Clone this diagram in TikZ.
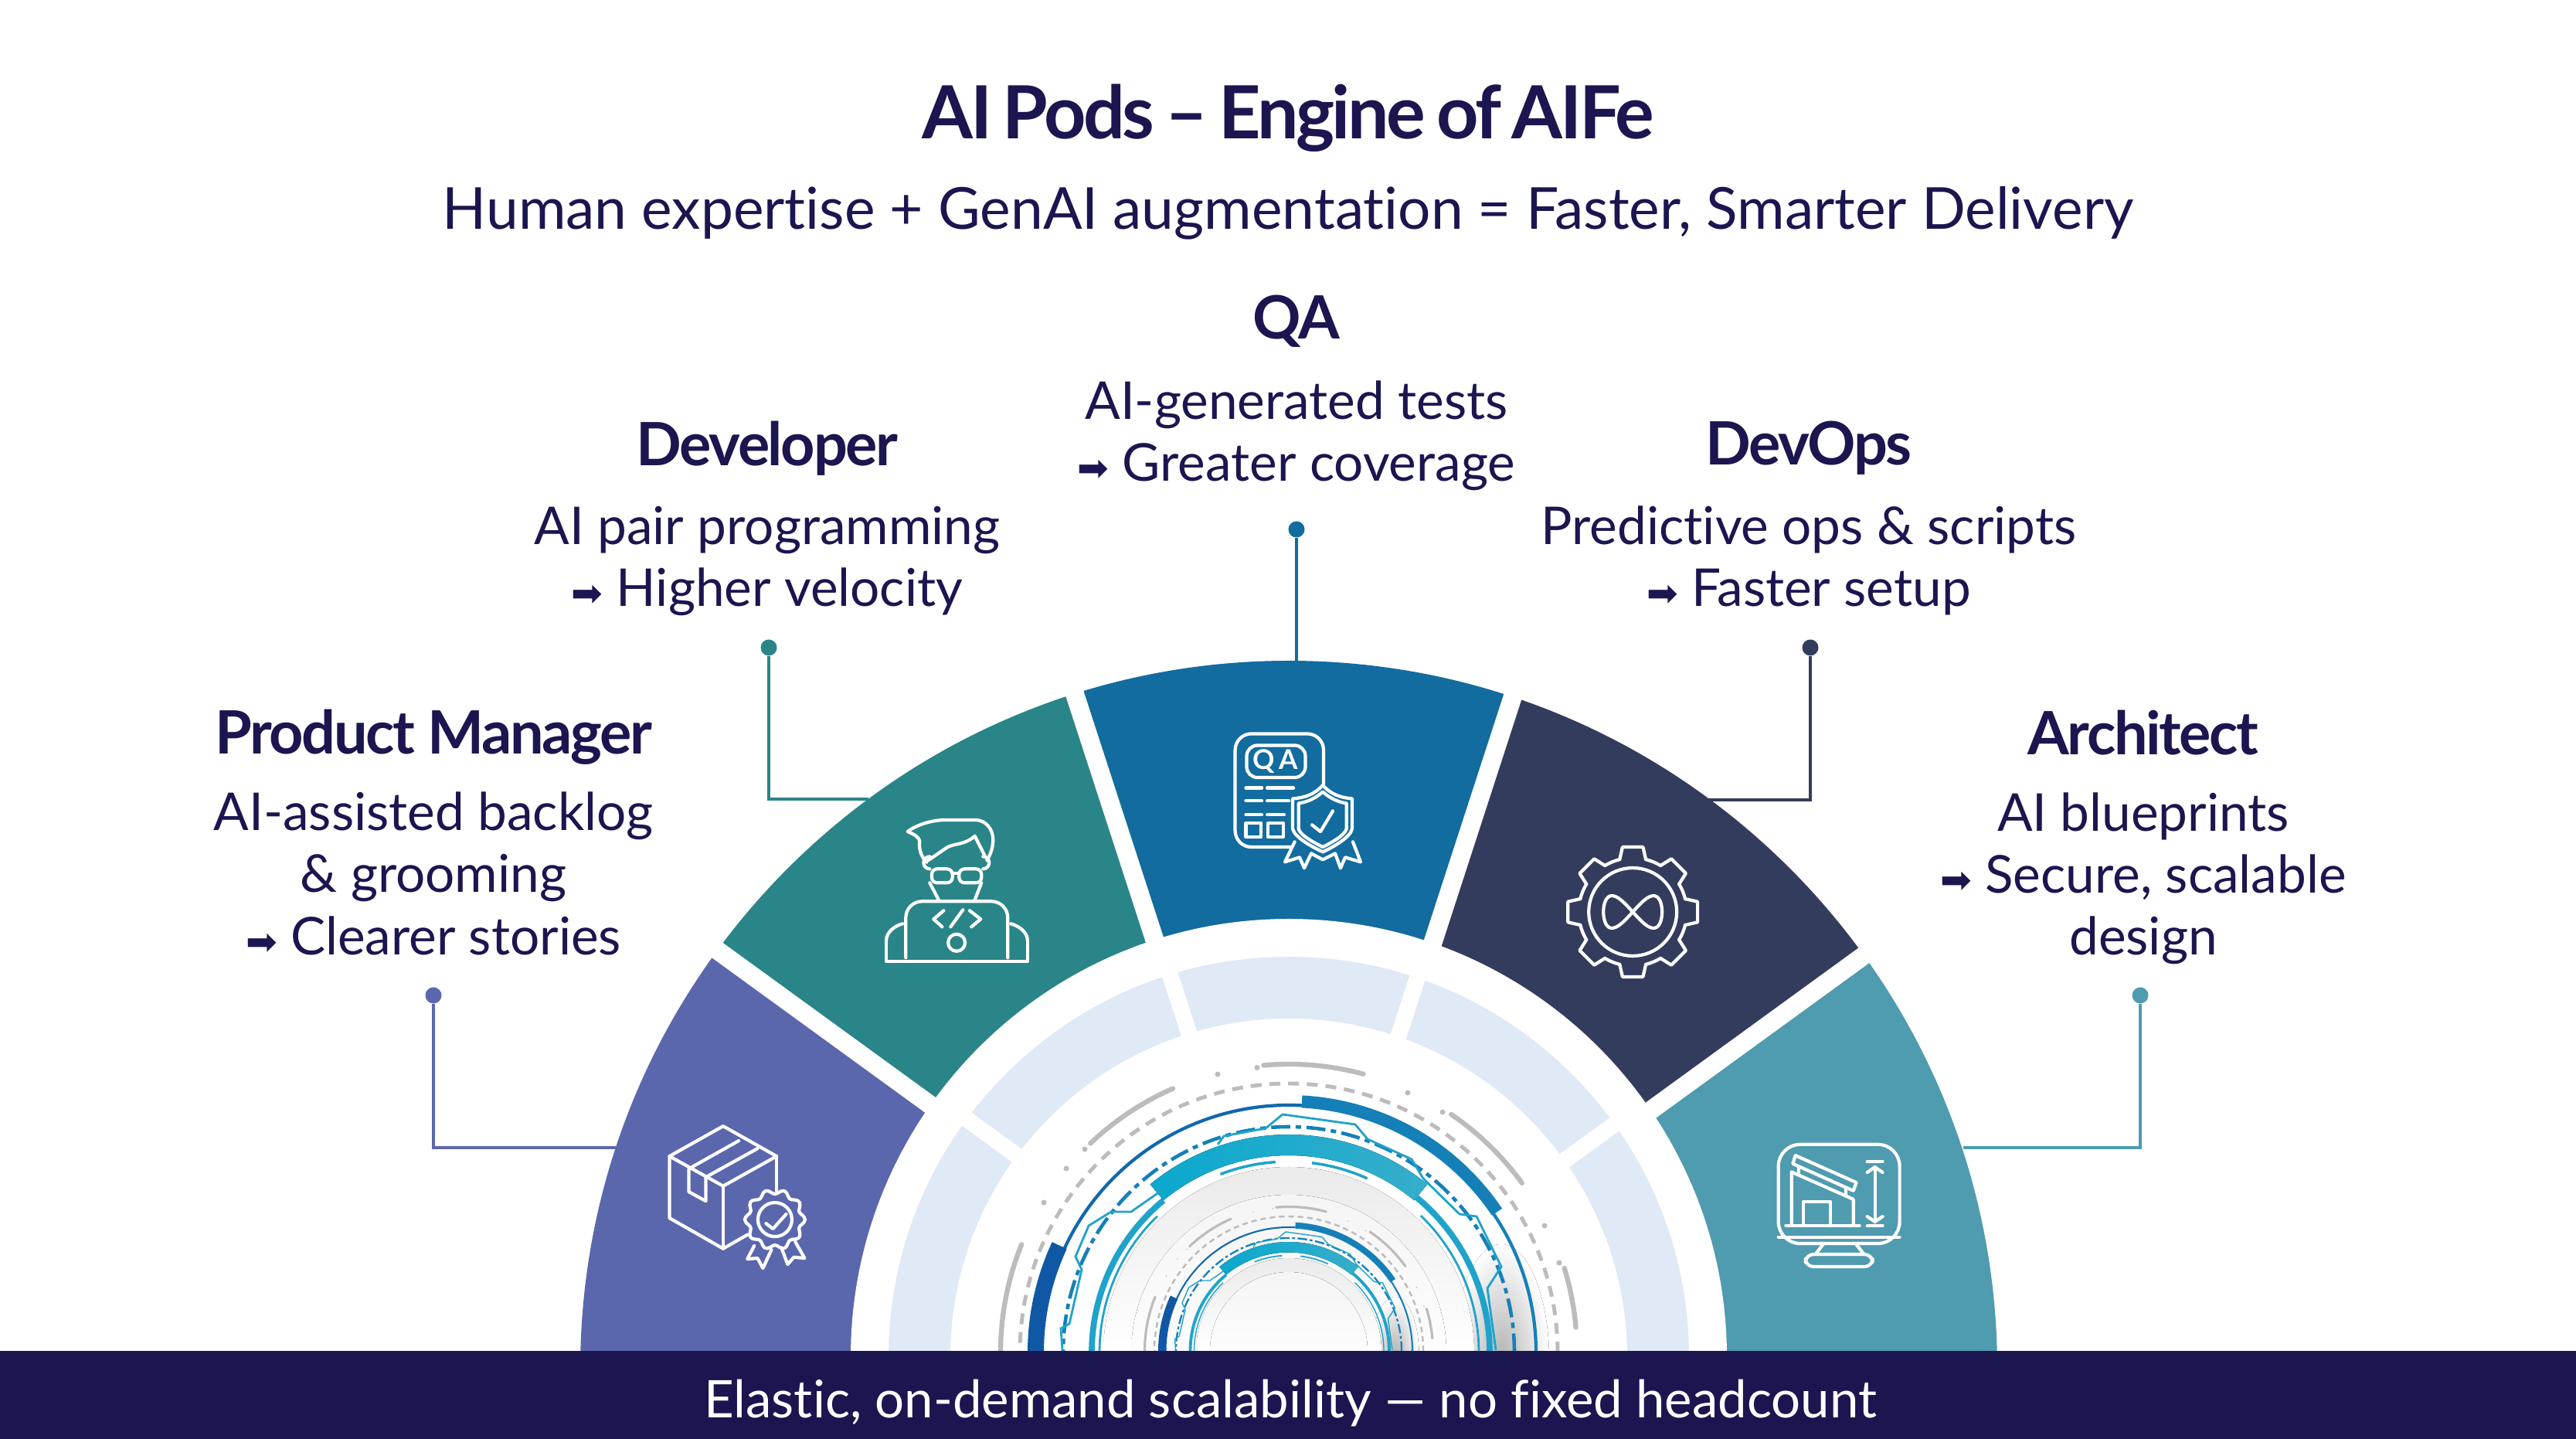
\documentclass[tikz,border=0pt]{standalone}
\usepackage{fontspec}
\setmainfont{Lato}[Ligatures=NoCommon]
\newfontfamily\arrowfont{DejaVu Sans}[Scale=0.72]
\newfontfamily\tightfont{Lato}[LetterSpace=-3.0,Ligatures=NoCommon]
\newfontfamily\titlefont{Lato}[LetterSpace=-3.6,WordSpace=0.7,Ligatures=NoCommon]
\usetikzlibrary{positioning}
\definecolor{podpm}{HTML}{5B67AD}
\definecolor{poddev}{HTML}{2A8588}
\definecolor{podqa}{HTML}{126C9F}
\definecolor{podops}{HTML}{343C5E}
\definecolor{podarch}{HTML}{4F9BB0}
\definecolor{ringblue}{HTML}{E0E9F6}
\definecolor{inknavy}{HTML}{1B1650}
\definecolor{techgray}{HTML}{BDBBBB}
\definecolor{techblue}{HTML}{1580B8}
\definecolor{techdark}{HTML}{1058A5}
\definecolor{techcyan}{HTML}{1FA3CB}
\definecolor{techleft}{HTML}{0AA8CD}
\definecolor{techright}{HTML}{35AECB}
\newcommand{\goes}{{\arrowfont ➡}\ }
\tikzset{
headtext/.style={inner sep=0pt,text=inknavy,font=\tightfont\bfseries\fontsize{22}{26}\selectfont},
bodytext/.style={inner sep=0pt,text=inknavy,align=center,font=\fontsize{19.2}{22.8}\selectfont},
podline/.style={line width=0.9pt},
poddot/.style={circle,inner sep=0pt,minimum size=0.21cm},
iconline/.style={white,line width=1.2pt,line join=round,line cap=round},
iconpx/.style={x=0.01cm,y=-0.01cm,yshift=18.62cm}
}
% one set of rings, #1 scales the strokes
\newcommand{\techring}[1]{
% soft shadow and discs
\fill[inner color=black!30,outer color=white] (2.75,-0.1) ellipse (0.62 and 1.5);
\fill[white] (0:2.4) arc (0:180:2.4) -- cycle;
\fill[top color=black!8,bottom color=white] (0:2.4) arc (0:180:2.4) -- cycle;
\fill[top color=black!4,bottom color=black!1] (0:2.04) arc (0:180:2.04) -- cycle;
% gray arcs
\foreach \a/\b in {5/17,36/55.7,75/95,113.7/133.5,158/180}{
\draw[techgray,line width=#1*1.8pt,line cap=round] (\a:3.73) arc (\a:\b:3.73);
}
\draw[techgray,line width=#1*1.4pt,dash pattern=on #1*4pt off #1*2.9pt] (0:3.48) arc (0:180:3.48);
\foreach \x/\y in {-0.92/3.60,-2.88/2.38,-3.17/1.94,-2.64/2.63,-0.41/3.685,1.54/3.36,1.99/3.11,3.31/1.64,3.50/1.16}{
\fill[techgray] (\x,\y) circle (#1*0.035);
}
% blue arcs
\draw[techdark!60!techblue,line width=#1*1.2pt] (87:3.2) arc (87:155:3.2);
\draw[techdark,line width=#1*1.2pt] (155:3.2) arc (155:180:3.2);
\draw[techblue,line width=#1*1.2pt] (0:3.2) arc (0:34:3.2);
\fill[techblue] (34:3.33) arc (34:87:3.33) -- (87:3.17) arc (87:34:3.17) -- cycle;
\fill[techdark] (155:3.38) arc (155:180:3.38) -- (180:3.17) arc (180:155:3.17) -- cycle;
\draw[techblue,line width=#1*1.3pt,dash pattern=on #1*7pt off #1*2pt on #1*2pt off #1*2pt] (0:2.92) arc (0:180:2.92);
% cyan arcs
\fill[left color=techleft,right color=techright] (50.5:2.82) arc (50.5:129.5:2.82) -- (129.5:2.55) arc (129.5:50.5:2.55) -- cycle;
\draw[techcyan,line width=#1*2.2pt] (0:2.6) arc (0:50.5:2.6);
\draw[techcyan,line width=#1*2.2pt] (129.5:2.55) arc (129.5:180:2.55);
\draw[techcyan,line width=#1*0.8pt] (0:2.46) arc (0:46:2.46);
\draw[techcyan,line width=#1*0.8pt] (134:2.45) arc (134:180:2.45);
\draw[techcyan,line width=#1*1pt] (65.7:2.47) arc (65.7:83:2.47);
\draw[techcyan,line width=#1*1pt] (94:2.47) arc (94:111:2.47);
% circuit lines
\draw[techcyan,line width=#1*0.8pt] (-2.93,0.03) -- (-2.95,0.31) -- (-2.84,0.37) -- (-2.68,1.07) -- (-2.76,1.24) -- (-2.59,1.64) -- (-2.30,1.82) -- (-2.04,1.82) -- (-1.64,2.10);
\draw[techcyan,line width=#1*0.8pt] (-0.92,2.69) -- (-0.84,2.80) -- (-0.30,2.90) -- (-0.08,3.08) -- (0.86,2.95) -- (1.02,2.76) -- (1.59,2.50) -- (1.74,2.25) -- (2.21,1.79) -- (2.43,1.76) -- (2.75,1.11) -- (2.57,0.83) -- (2.68,0.03);
}
\begin{document}
\begin{tikzpicture}
\useasboundingbox (0,0) rectangle (33.34,18.62);
\fill[white] (0,0) rectangle (33.34,18.62);

% outer pods
\begin{scope}
\clip (16.68,0.90) circle (9.17);
\foreach \a/\col in {144/podpm,108/poddev,72/podqa,36/podops,0/podarch}{
\fill[\col] (16.75,0.90) -- ++(\a:11) arc (\a:\a+36:11) -- cycle;
}
\end{scope}
\fill[white] (16.68,1.06) circle (5.67);
\foreach \a in {36,72,108,144}{
\draw[white,line width=0.24cm] (16.75,0.90) -- ++(\a:9.4);
}

% pale ring
\fill[ringblue] (16.68,1.06) circle (5.18);
\fill[white] (16.68,1.06) circle (4.38);
\foreach \a in {36,72,108,144}{
\draw[white,line width=0.21cm] (16.75,1.06) -- ++(\a:5.4);
}

% rings in the middle
\begin{scope}[shift={(16.68,1.12)}]
\techring{1}
\end{scope}
\begin{scope}[shift={(16.68,1.14)},scale=0.5]
\techring{0.5}
\end{scope}

% product manager icon
\begin{scope}[iconpx,iconline]
\draw (936.5,1458) -- (867,1497) -- (936.5,1535.6) -- (1005.7,1497) -- cycle;
\draw (867,1497) -- (867,1577) -- (936.5,1616.6) -- (968,1598.6);
\draw (936.5,1535.6) -- (936.5,1616.6);
\draw (1005.7,1497) -- (1005.7,1543);
\draw (896,1511) -- (956.6,1477);
\draw (916,1523) -- (981,1487);
\draw (892,1514) -- (892,1543) -- (914,1555) -- (914,1525);
\draw plot[domain=0:360,samples=73,smooth] ({1003.5+(36+3*cos(10*\x))*cos(\x)},{1579+(36+3*cos(10*\x))*sin(\x)});
\draw (1003.5,1579) circle (22);
\draw (992,1584) -- (1001,1591) -- (1018,1572);
\draw (976.7,1613) -- (967.8,1630) -- (981,1629) -- (988,1642) -- (999,1618);
\draw (1030,1608) -- (1042,1629) -- (1028,1627.7) -- (1020,1637) -- (1012,1615.6);
\end{scope}

% developer icon
\begin{scope}[iconpx,iconline]
\draw (1200,1116.3) .. controls (1191,1108) and (1190,1095) .. (1191,1090) .. controls (1190,1082) and (1182,1080) .. (1175.4,1076.6) .. controls (1190,1066) and (1210,1061.6) .. (1224.5,1061.6) -- (1262.4,1061.6) .. controls (1278,1061.6) and (1286,1075) .. (1286,1087) .. controls (1286,1097) and (1283,1106) .. (1278,1114);
\draw (1202,1113.9) -- (1226.7,1097) .. controls (1235,1092) and (1250,1094) .. (1262.4,1082.4) -- (1275.8,1109);
\draw[rounded corners=2] (1206.6,1125) rectangle (1233.4,1143);
\draw[rounded corners=2] (1242,1125) rectangle (1271,1143);
\draw (1233.4,1131) -- (1242,1131);
\draw (1204,1125) arc (90:270:8 and 8);
\draw (1273,1125) arc (90:-90:8 and 8);
\draw (1204,1143) -- (1215.5,1165);
\draw (1271,1143) -- (1262.4,1165);
\draw[rounded corners=6] (1173,1240) -- (1173,1167) -- (1305,1167) -- (1305,1240);
\draw (1147.7,1218) -- (1147.7,1245) -- (1330.7,1245) -- (1330.7,1218);
\draw (1147.7,1218) .. controls (1147.7,1207) and (1158,1199) .. (1168.7,1196);
\draw (1330.7,1218) .. controls (1330.7,1207) and (1320,1199) .. (1309,1196);
\draw (1222,1179) -- (1209,1190) -- (1220,1200);
\draw (1247,1178) -- (1231,1200);
\draw (1255.7,1179) -- (1270,1190) -- (1258,1200);
\draw (1238.8,1220.5) circle (11);
\end{scope}

% qa icon
\begin{scope}[iconpx,iconline]
\draw[rounded corners=6] (1714,1015) -- (1714,950) -- (1599.5,950) -- (1599.5,1096.7) -- (1671,1096.7);
\draw[rounded corners=4] (1614.4,965) rectangle (1690.5,1006.7);
\node[inner sep=0pt,text=white,font=\bfseries\fontsize{10}{10}\selectfont] (qaiconlabel) at (1652,986) {Q\,A};
\foreach \y/\w in {1020/1675,1037/1669,1055/1663}{
\draw (1613.4,\y) -- (1634,\y);
\draw (1641,\y) -- (\w,\y);
}
\draw (1613.4,1065.7) rectangle (1633.3,1084);
\draw (1641.8,1065.7) rectangle (1661.7,1084);
\draw (1713,1016.7) .. controls (1703,1028) and (1690,1033) .. (1674,1034) -- (1674,1073) .. controls (1676,1084) and (1700,1097) .. (1713,1103) .. controls (1726,1097) and (1749,1084) .. (1751,1073) -- (1751,1034) .. controls (1736,1033) and (1723,1028) .. (1713,1016.7) -- cycle;
\draw (1713,1025) .. controls (1705,1033) and (1692,1039) .. (1681.6,1040) -- (1681.6,1073) .. controls (1684,1082) and (1702,1091) .. (1713,1096.7) .. controls (1724,1091) and (1741,1082) .. (1743.8,1073) -- (1743.8,1040) .. controls (1734,1039) and (1721,1033) .. (1713,1025) -- cycle;
\draw (1699,1068) -- (1710,1076.7) -- (1726,1050);
\draw (1676.6,1090) -- (1664,1116) -- (1683,1110) -- (1689,1124) -- (1698,1105) -- (1713,1113) -- (1729,1105) -- (1736,1124) -- (1742,1110) -- (1762,1116) -- (1752,1090);
\end{scope}

% devops icon
\begin{scope}[iconpx,iconline,shift={(2114.4,1180.7)}]
\draw (0,0) circle (57);
\draw plot[domain=0:360,samples=61,smooth] ({38*cos(\x)},{21*sin(2*\x)});
\foreach \a in {0,45,...,315}{
\draw (\a-14:70) -- (\a-9:85) -- (\a+9:85) -- (\a+14:70);
\draw (\a+14:70) arc (\a+14:\a+31:70);
}
\end{scope}

% architect icon
\begin{scope}[iconpx,iconline]
\draw[rounded corners=8] (2303,1481.7) rectangle (2460,1610);
\draw (2303,1601.7) -- (2460,1601.7);
\draw (2361.7,1610) -- (2351.7,1623);
\draw (2403,1610) -- (2413,1623);
\draw[rounded corners=3] (2338,1624) rectangle (2425,1640);
\draw (2325,1496) -- (2321.7,1506.7) -- (2400,1541.7) -- (2404,1531) -- cycle;
\draw (2320,1586.7) -- (2320,1517.3) -- (2400,1552.7) -- (2400,1586.7);
\draw (2329,1510) -- (2329,1518);
\draw (2390,1538) -- (2390,1546.7);
\draw (2335,1586.7) -- (2335,1556) -- (2370.7,1556) -- (2370.7,1586.7);
\draw (2312.7,1586.7) -- (2408,1586.7);
\draw (2418,1504) -- (2438,1504);
\draw (2418,1587) -- (2438,1587);
\draw (2428,1511) -- (2428,1581.7);
\draw (2418,1518) -- (2428,1511) -- (2438,1518);
\draw (2418,1575) -- (2428,1581.7) -- (2438,1575);
\end{scope}

% connectors
\node[poddot,fill=podpm] (pmdot) at (5.61,5.74) {};
\node[poddot,fill=poddev] (devdot) at (9.95,10.24) {};
\node[poddot,fill=podqa] (qadot) at (16.78,11.77) {};
\node[poddot,fill=podops] (opsdot) at (23.43,10.24) {};
\node[poddot,fill=podarch] (archdot) at (27.70,5.74) {};
\coordinate (pmend) at (7.97,3.77);
\coordinate (devend) at (11.24,8.28);
\coordinate (qaend) at (16.78,10.07);
\coordinate (opsend) at (22.11,8.27);
\coordinate (archend) at (25.41,3.77);
\draw[podline,podpm] (pmdot) |- (pmend);
\draw[podline,poddev] (devdot) |- (devend);
\draw[podline,podqa] (qadot) -- (qaend);
\draw[podline,podops] (opsdot) |- (opsend);
\draw[podline,podarch] (archdot) |- (archend);

% title
\node[inner sep=0pt,text=inknavy,font=\titlefont\bfseries\fontsize{27}{32}\selectfont] (title) at (16.67,17.09) {AI Pods – Engine of AIFe};
\node[inner sep=0pt,text=inknavy,font=\fontsize{21.3}{25}\selectfont] (subtitle) at (16.67,15.86) {Human expertise + GenAI augmentation = Faster, Smarter Delivery};

% labels
\node[headtext] (qahead) at (16.78,14.46) {QA};
\node[bodytext,below=0.42 of qahead] (qabody) {AI-generated tests\\\goes Greater coverage};
\node[headtext] (devhead) at (9.93,12.82) {Developer};
\node[bodytext,below=0.39 of devhead] (devbody) {AI pair programming\\\goes Higher velocity};
\node[headtext] (opshead) at (23.41,12.82) {DevOps};
\node[bodytext,below=0.39 of opshead] (opsbody) {Predictive ops \& scripts\\\goes Faster setup};
\node[headtext] (pmhead) at (5.61,9.08) {Product Manager};
\node[bodytext,below=0.34 of pmhead] (pmbody) {AI-assisted backlog\\\& grooming\\\goes Clearer stories};
\node[headtext] (archhead) at (27.74,9.14) {Architect};
\node[bodytext,below=0.47 of archhead] (archbody) {AI blueprints\\\goes Secure, scalable\\design};

% band
\fill[inknavy] (0,0) rectangle (33.34,1.14);
\node[inner sep=0pt,text=white,font=\fontsize{19.1}{25}\selectfont] (bandtext) at (16.7,0.46) {Elastic, on-demand scalability — no fixed headcount};
\end{tikzpicture}
\end{document}
